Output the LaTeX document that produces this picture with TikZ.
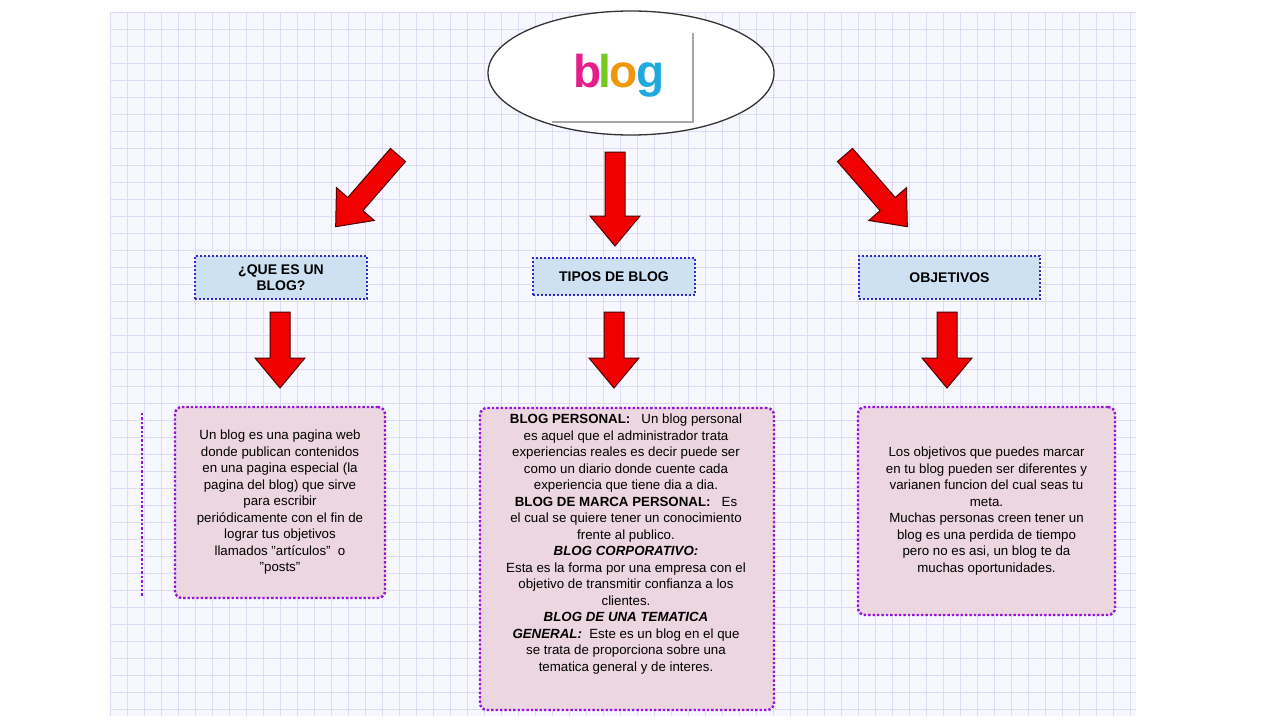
\documentclass[tikz,border=0pt]{standalone}
\usepackage{fontspec}
\setmainfont{Liberation Sans}
\usetikzlibrary{shapes.geometric}
\definecolor{gridc}{RGB}{222,220,245}
\definecolor{titlefill}{RGB}{205,225,243}
\definecolor{titledraw}{RGB}{50,40,200}
\definecolor{boxfill}{RGB}{236,214,224}
\definecolor{boxdraw}{RGB}{150,20,220}
\definecolor{arrred}{RGB}{240,0,0}
\tikzset{
 x=1pt,y=-1pt,
 title/.style={draw=titledraw,fill=titlefill,line width=1.8pt,dash pattern=on 2pt off 2pt,font=\fontsize{14}{16}\selectfont\bfseries,align=center,inner sep=0pt},
 box/.style={draw=boxdraw,fill=boxfill,line width=2.4pt,dash pattern=on 2.4pt off 2pt,rounded corners=7pt,font=\fontsize{13.3}{16.5}\selectfont,align=center,inner sep=0pt},
 barrow/.pic={\fill[arrred,draw=black!70!red,line width=1pt] (-10,0)--(10,0)--(10,#1-30)--(25,#1-30)--(0,#1)--(-25,#1-30)--(-10,#1-30)--cycle;}
}
\begin{document}
\begin{tikzpicture}
\useasboundingbox (0,0) rectangle (1280,720);
\fill[white] (0,0) rectangle (1280,720);
\fill[white!97!blue] (110,12) rectangle (1136,716);
\foreach \i in {0,...,60} {\draw[gridc,line width=0.6pt] (110+17*\i,12)--(110+17*\i,716);}
\foreach \j in {0,...,41} {\draw[gridc,line width=0.6pt] (110,12+17*\j)--(1136,12+17*\j);}
% logo ellipse
\node[ellipse,draw=black!80,line width=1.3pt,fill=white,minimum width=286,minimum height=124] (logo) at (631,73) {};
\draw[gray!70,line width=1.5pt] (693,33)--(693,122)--(552,122);
\node[font=\fontsize{46}{46}\selectfont\bfseries,inner sep=0pt] (blogtxt) at (619,76)
 {\textcolor[RGB]{230,30,140}{b}\kern-3pt\textcolor[RGB]{120,200,30}{l}\kern-2pt\textcolor[RGB]{240,150,10}{o}\kern-1pt\textcolor[RGB]{30,170,220}{g}};
% arrows
\pic[rotate=-41] at (398,155) {barrow=95};
\pic at (615,152) {barrow=94};
\pic[rotate=41] at (845,155) {barrow=95};
% titles
\node[title,minimum width=172,minimum height=43] (t1) at (281,277.5) {¿QUE ES UN\\BLOG?};
\node[title,minimum width=162,minimum height=37] (t2) at (614,276.5) {TIPOS DE BLOG};
\node[title,minimum width=181,minimum height=43] (t3) at (949.5,277.5) {OBJETIVOS};
\pic at (280,312) {barrow=76};
\pic at (614,312) {barrow=76};
\pic at (947,312) {barrow=76};
% boxes
\draw[boxdraw,line width=2.4pt,dash pattern=on 2.4pt off 2pt] (142,413)--(142,597);
\node[box,minimum width=210,minimum height=191] (b1) at (280,502.5) {Un blog es una pagina web\\donde publican contenidos\\en una pagina especial (la\\pagina del blog) que sirve\\para escribir\\periódicamente con el fin de\\lograr tus objetivos\\llamados \char"22 artículos\char"22\ \ o\\\char"22 posts\char"22};
\node[box,minimum width=294,minimum height=302] (b2) at (627,559) {};
\node[font=\fontsize{13.3}{16.5}\selectfont,align=center,anchor=north,inner sep=0pt] (b2t) at (626,414) {\textbf{BLOG PERSONAL:}\ \ \ Un blog personal\\es aquel que el administrador trata\\experiencias reales es decir puede ser\\como un diario donde cuente cada\\experiencia que tiene dia a dia.\\\textbf{BLOG DE MARCA PERSONAL:}\ \ \ Es\\el cual se quiere tener un conocimiento\\frente al publico.\\\textbf{\textit{BLOG CORPORATIVO:}}\\Esta es la forma por una empresa con el\\objetivo de transmitir confianza a los\\clientes.\\\textbf{\textit{BLOG DE UNA TEMATICA}}\\\textbf{\textit{GENERAL:}}\ \ Este es un blog en el que\\se trata de proporciona sobre una\\tematica general y de interes.};
\node[box,minimum width=257,minimum height=208] (b3) at (986.5,511) {Los objetivos que puedes marcar\\en tu blog pueden ser diferentes y\\varianen funcion del cual seas tu\\meta.\\Muchas personas creen tener un\\blog es una perdida de tiempo\\pero no es asi, un blog te da\\muchas oportunidades.};
\end{tikzpicture}
\end{document}
